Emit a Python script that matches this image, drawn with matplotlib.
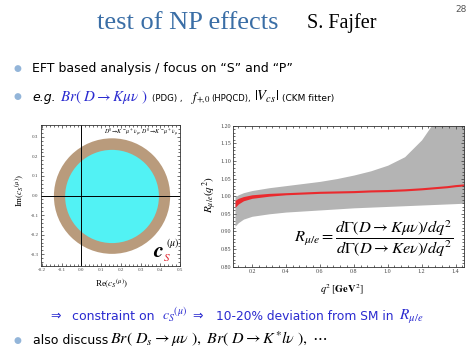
import numpy as np
import matplotlib.pyplot as plt
from matplotlib.patches import Circle
from matplotlib.ticker import MultipleLocator, FormatStrFormatter

# ---- data ----
# left panel: allowed region for c_S^(mu) (two discs)
outer_center = (0.155, -0.003)
outer_radius = 0.295
inner_center = (0.155, -0.005)
inner_radius = 0.238

# right panel: R_mu/e(q^2)
q2 = [0.1, 0.12, 0.15, 0.2, 0.3, 0.4, 0.5, 0.6, 0.7, 0.8, 0.9, 1.0,
      1.1, 1.2, 1.25, 1.3, 1.35, 1.4, 1.45]
gray_hi = [0.998, 1.004, 1.010, 1.016, 1.024, 1.030, 1.036, 1.042, 1.050,
           1.060, 1.072, 1.088, 1.112, 1.160, 1.195, 1.235, 1.28, 1.33, 1.39]
gray_lo = [0.915, 0.925, 0.935, 0.943, 0.950, 0.955, 0.958, 0.961, 0.964,
           0.967, 0.969, 0.971, 0.973, 0.975, 0.976, 0.977, 0.978, 0.979, 0.980]
red_hi = [0.988, 0.994, 0.999, 1.004, 1.008, 1.010, 1.012, 1.014, 1.015,
          1.016, 1.018, 1.019, 1.021, 1.024, 1.026, 1.028, 1.030, 1.033, 1.035]
red_lo = [0.968, 0.978, 0.987, 0.994, 1.000, 1.004, 1.006, 1.008, 1.009,
          1.010, 1.012, 1.013, 1.015, 1.018, 1.020, 1.022, 1.024, 1.027, 1.029]

W, H = 474, 355
fig = plt.figure(figsize=(W / 100, H / 100), dpi=100)


def fx(px):
    return px / W


def fy(py):
    return 1 - py / H


def frame_ticks(ax, major, minor, size):
    ax.xaxis.set_major_locator(MultipleLocator(major[0]))
    ax.yaxis.set_major_locator(MultipleLocator(major[1]))
    ax.xaxis.set_minor_locator(MultipleLocator(minor[0]))
    ax.yaxis.set_minor_locator(MultipleLocator(minor[1]))
    ax.tick_params(which="both", direction="in", top=True, right=True,
                   width=0.5, colors="#333333", labelcolor="#444444")
    ax.tick_params(which="major", length=2.5, labelsize=size, pad=1.5)
    ax.tick_params(which="minor", length=1.2)
    for lab in ax.get_xticklabels() + ax.get_yticklabels():
        lab.set_family("Liberation Serif")
    for s in ax.spines.values():
        s.set_linewidth(0.6)
        s.set_color("#333333")


# ======================================================
# left panel
# ======================================================
ax1 = fig.add_axes([fx(40.7), fy(266), fx(180 - 40.7), (266 - 125) / H])
ax1.add_patch(Circle(outer_center, outer_radius, color="#b99b7c", lw=0))
ax1.add_patch(Circle(inner_center, inner_radius, color="#52f2f4", lw=0))
ax1.axhline(0, color="black", lw=0.7)
ax1.axvline(0, color="black", lw=0.7)
ax1.set_xlim(-0.207, 0.5)
ax1.set_ylim(-0.36, 0.36)
frame_ticks(ax1, (0.1, 0.1), (0.02, 0.02), 3.6)
ax1.xaxis.set_major_formatter(FormatStrFormatter("%.1f"))
ax1.yaxis.set_major_formatter(FormatStrFormatter("%.1f"))
ax1.text(0.305, 0.325, r"$D^0\!\to\!K^-\mu^+\nu_\mu,\,D^0\!\to\!K^-\mu^+\nu_\mu$",
         fontsize=4.2, ha="center", va="center", math_fontfamily="stix")
ax1.text(0.392, -0.285, r"$\boldsymbol{c}$", fontsize=16, ha="center",
         va="center", math_fontfamily="stix")
ax1.text(0.462, -0.245, r"$(\mu)$", fontsize=7, ha="center", va="center",
         math_fontfamily="stix")
ax1.text(0.432, -0.318, r"$S$", fontsize=8, ha="center", va="center",
         color="#e0202a", math_fontfamily="stix")
fig.text(fx(112), fy(284), r"Re$(c_S{}^{(\mu)})$", fontsize=6.5, ha="center",
         va="center", family="Liberation Serif", math_fontfamily="stix")
fig.text(fx(20), fy(190), r"Im$(c_S{}^{(\mu)})$", fontsize=6.5, ha="center",
         va="center", rotation=90, family="Liberation Serif",
         math_fontfamily="stix")

# ======================================================
# right panel
# ======================================================
ax2 = fig.add_axes([fx(233.3), fy(266.7), fx(464 - 233.3), (266.7 - 125.7) / H])
ax2.fill_between(q2, gray_lo, gray_hi, color="#b4b4b4", lw=0)
ax2.fill_between(q2, red_lo, red_hi, color="#ea2a2e", lw=0)
ax2.set_xlim(0.09, 1.45)
ax2.set_ylim(0.80, 1.20)
frame_ticks(ax2, (0.2, 0.05), (0.04, 0.01), 4.3)
ax2.yaxis.set_major_formatter(FormatStrFormatter("%.2f"))
ax2.xaxis.set_major_formatter(FormatStrFormatter("%.1f"))
ax2.text(0.915, 0.879,
         r"$R_{\mu/e} = \dfrac{d\Gamma\left(D \rightarrow K\mu\nu\right)/dq^2}"
         r"{d\Gamma\left(D \rightarrow Ke\nu\right)/dq^2}$",
         fontsize=11.8, ha="center", va="center", math_fontfamily="stix")
fig.text(fx(210), fy(195), r"$R_{\mu/e}(q^2)$", fontsize=8, ha="center",
         va="center", rotation=90, math_fontfamily="stix")
fig.text(fx(342), fy(290), r"$q^2\,[\mathbf{GeV}^2]$", fontsize=7.5,
         ha="center", va="center", math_fontfamily="stix")

# ======================================================
# slide text
# ======================================================
blue = "#2a2ad0"
sans = 9
fig.text(fx(97), fy(23), "test of NP effects", fontsize=19, color="#3a6ea6",
         family="Liberation Serif", ha="left", va="center")
fig.text(fx(307), fy(23), "S. Fajfer", fontsize=14.5, color="black",
         family="Liberation Serif", ha="left", va="center")
fig.text(fx(455), fy(10), "28", fontsize=6.5, color="#555555",
         ha="left", va="center")

for yb in (68, 97, 340):
    fig.text(fx(17), fy(yb), "\u25cf", fontsize=6.5, color="#93b5d9",
             ha="center", va="center")

fig.text(fx(32), fy(72), "EFT based analysis / focus on \u201cS\u201d and \u201cP\u201d",
         fontsize=sans, ha="left", va="baseline")

fig.text(fx(32), fy(101), "e.g.", fontsize=sans, style="italic", ha="left",
         va="baseline")
fig.text(fx(60), fy(101), r"$Br(\ D{\rightarrow}K\mu\nu\ )$", fontsize=10.8,
         color=blue, ha="left", va="baseline", math_fontfamily="stix")
fig.text(fx(152), fy(101), "(PDG) ,", fontsize=6.2, ha="left", va="baseline")
fig.text(fx(191), fy(101), r"$f_{+\!,0}$", fontsize=9, ha="left",
         va="baseline", math_fontfamily="stix")
fig.text(fx(211), fy(101), "(HPQCD),", fontsize=6, ha="left", va="baseline")
fig.text(fx(254), fy(101), r"$|V_{cs}|$", fontsize=10.5, ha="left",
         va="baseline", math_fontfamily="stix")
fig.text(fx(282), fy(101), "(CKM fitter)", fontsize=6.5, ha="left",
         va="baseline")

fig.text(fx(50), fy(320), "\u21d2", fontsize=sans, color=blue, ha="left",
         va="baseline")
fig.text(fx(72), fy(320), "constraint on", fontsize=sans, color=blue,
         ha="left", va="baseline")
fig.text(fx(162), fy(320), r"$c_S{}^{(\mu)}$", fontsize=10, color=blue,
         ha="left", va="baseline", math_fontfamily="stix")
fig.text(fx(192), fy(320), "\u21d2", fontsize=sans, color=blue, ha="left",
         va="baseline")
fig.text(fx(216), fy(320), "10-20% deviation from SM in", fontsize=8.8,
         color=blue, ha="left", va="baseline")
fig.text(fx(399), fy(320), r"$R_{\mu/e}$", fontsize=11, color=blue,
         ha="left", va="baseline", math_fontfamily="stix")

fig.text(fx(33), fy(344), "also discuss", fontsize=sans, ha="left",
         va="baseline")
fig.text(fx(110), fy(344),
         r"$Br(\ D_s{\rightarrow}\mu\nu\ ),\ Br(\ D{\rightarrow}K^{*}l\nu\ ),\ \cdots$",
         fontsize=11.5, ha="left", va="baseline", math_fontfamily="stix")

fig.savefig("out.png", dpi=100)
